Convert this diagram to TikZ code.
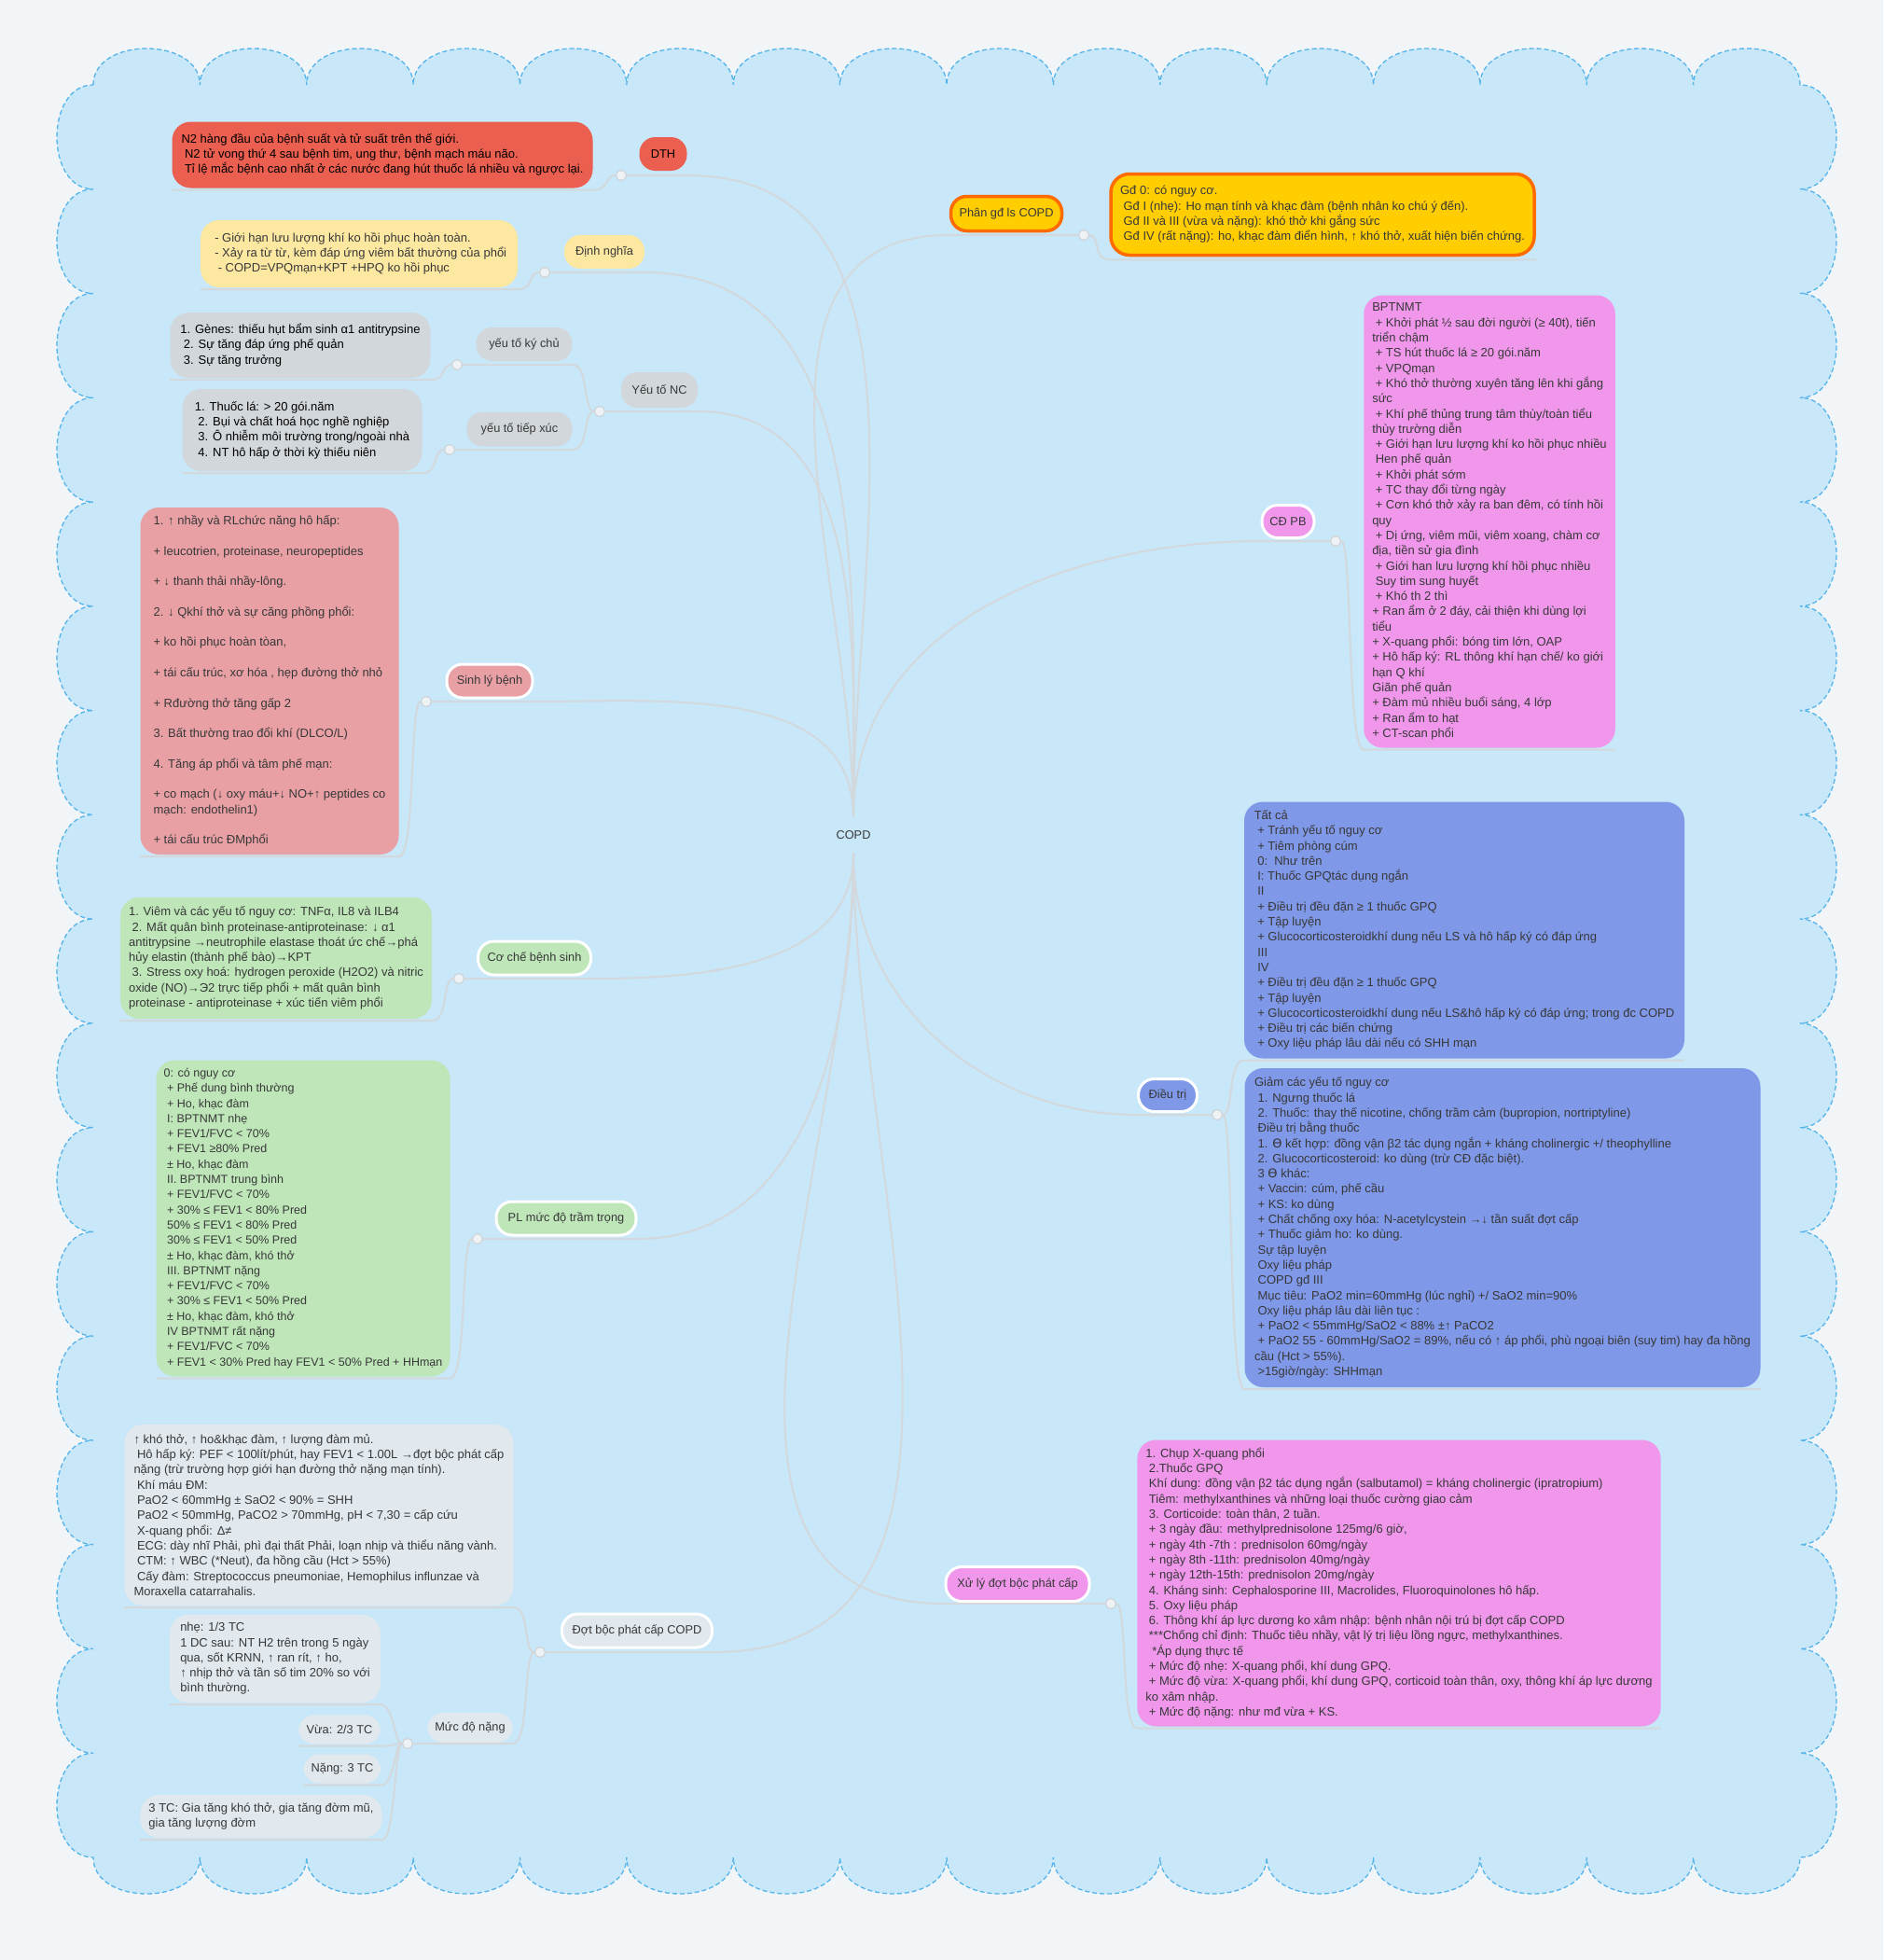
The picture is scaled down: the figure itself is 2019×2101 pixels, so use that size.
\documentclass[tikz,border=0pt]{standalone}
\usepackage{fontspec}
\setmainfont{Liberation Sans}
\newfontfamily\dvfont{DejaVu Sans}
\definecolor{bgc}{HTML}{F1F5F8}
\definecolor{cloudc}{HTML}{C8E7F8}
\definecolor{cloudl}{HTML}{55B4EA}
\definecolor{connc}{HTML}{D3D8DC}
\definecolor{dotc}{HTML}{EEF2F5}
\definecolor{dotd}{HTML}{CED4D9}
\definecolor{txt}{HTML}{383838}
\definecolor{redc}{HTML}{EB5F50}
\definecolor{yelc}{HTML}{FDE8A2}
\definecolor{greyc}{HTML}{D2D7DB}
\definecolor{rosec}{HTML}{E8A0A5}
\definecolor{greenc}{HTML}{BEE6B9}
\definecolor{lgreyc}{HTML}{E1E8EE}
\definecolor{goldc}{HTML}{FFCD00}
\definecolor{orangec}{HTML}{FF6B00}
\definecolor{violetc}{HTML}{F097EC}
\definecolor{bluec}{HTML}{7F98E8}
\newcommand\ind{\hspace*{3.5pt}}
\newcommand\tht{{\dvfont ϴ}}
\begin{document}
\begin{tikzpicture}[x=1pt,y=1pt,
 conn/.style={draw=connc,line width=2pt},
 knob/.style={circle,fill=dotc,draw=dotd,line width=1.2pt,minimum size=11pt,inner sep=0pt},
 pill/.style={rounded corners=17pt,inner xsep=8pt,inner ysep=0pt,text=txt,font=\fontsize{12.8}{14}\selectfont},
 wb/.style={draw=white,line width=3pt},
 cbox/.style={rounded corners=20pt,align=left,inner xsep=9pt,inner ysep=3pt,text=txt,font=\fontsize{13}{16.3}\selectfont}]
\useasboundingbox (0,0) rectangle (2019,-2101);
\fill[bgc] (0,0) rectangle (2019,-2101);
\filldraw[fill=cloudc,draw=cloudl,line width=1.3pt,dash pattern=on 5pt off 3pt] (100,-91)
 \foreach \i in {0,...,15} { .. controls ({100+\i*114.375},-39) and ({100+(\i+1)*114.375},-39) .. ({100+(\i+1)*114.375},-91) }
 \foreach \i in {0,...,16} { .. controls (1982,{-91-\i*111.765}) and (1982,{-91-(\i+1)*111.765}) .. (1930,{-91-(\i+1)*111.765}) }
 \foreach \i in {0,...,15} { .. controls ({1930-\i*114.375},-2043) and ({1930-(\i+1)*114.375},-2043) .. ({1930-(\i+1)*114.375},-1991) }
 \foreach \i in {0,...,16} { .. controls (48,{-1991+\i*111.765}) and (48,{-1991+(\i+1)*111.765}) .. (100,{-1991+(\i+1)*111.765}) }
 -- cycle;

\node[pill,minimum width=60pt,minimum height=38pt] (copd) at (915,-895) {COPD};

\node[pill,fill=redc,text=black,minimum width=51pt,minimum height=36pt] (dth) at (711,-165) {DTH};
\node[knob] (dth-dot) at (666,-188) {};
\node[cbox,fill=redc,text=black,minimum width=451pt,minimum height=71pt] (dthtext) at (410,-166) {N2 hàng đầu của bệnh suất và tử suất trên thế giới.\\
\ind N2 tử vong thứ 4 sau bệnh tim, ung thư, bệnh mạch máu não.\\
\ind Tỉ lệ mắc bệnh cao nhất ở các nước đang hút thuốc lá nhiều và ngược lại.};

\node[pill,fill=yelc,minimum width=86pt,minimum height=36pt] (dinhnghia) at (648,-270) {Định nghĩa};
\node[knob] (dinhnghia-dot) at (584,-292) {};
\node[cbox,fill=yelc,minimum width=340pt,minimum height=72pt] (dinhnghiatext) at (385,-272) {\ind - Giới hạn lưu lượng khí ko hồi phục hoàn toàn.\\
\ind - Xảy ra từ từ, kèm đáp ứng viêm bất thường của phổi\\
\ind\ind - COPD=VPQmạn+KPT +HPQ ko hồi phục};

\node[pill,fill=greyc,minimum width=82pt,minimum height=38pt] (yeuto) at (707,-418) {Yếu tố NC};
\node[knob] (yeuto-dot) at (643,-441) {};
\node[pill,fill=greyc,minimum width=103pt,minimum height=36pt] (kychu) at (562,-369) {yếu tố ký chủ};
\node[knob] (kychu-dot) at (490,-391) {};
\node[cbox,fill=greyc,text=black,minimum width=279pt,minimum height=70pt] (kychutext) at (322,-370) {1. Gènes: thiếu hụt bẩm sinh α1 antitrypsine\\
\ind 2. Sự tăng đáp ứng phế quản\\
\ind 3. Sự tăng trưởng};
\node[pill,fill=greyc,minimum width=113pt,minimum height=37pt] (tiepxuc) at (557,-460) {yếu tố tiếp xúc};
\node[knob] (tiepxuc-dot) at (482,-482) {};
\node[cbox,fill=greyc,text=black,minimum width=257pt,minimum height=88pt] (tiepxuctext) at (324,-461) {1. Thuốc lá: > 20 gói.năm\\
\ind 2. Bụi và chất hoá học nghề nghiệp\\
\ind 3. Ô nhiễm môi trường trong/ngoài nhà\\
\ind 4. NT hô hấp ở thời kỳ thiếu niên};

\node[pill,wb,fill=rosec,minimum width=92pt,minimum height=36pt] (sinhly) at (525,-730) {Sinh lý bệnh};
\node[knob] (sinhly-dot) at (457,-752) {};
\node[cbox,fill=rosec,minimum width=277pt,minimum height=372pt] (sinhlytext) at (289,-730) {1. ↑ nhầy và RLchức năng hô hấp:\\[16.3pt]
+ leucotrien, proteinase, neuropeptides\\[16.3pt]
+ ↓ thanh thải nhầy-lông.\\[16.3pt]
2. ↓ Qkhí thở và sự căng phồng phổi:\\[16.3pt]
+ ko hồi phục hoàn tòan,\\[16.3pt]
+ tái cấu trúc, xơ hóa , hẹp đường thở nhỏ\\[16.3pt]
+ Rđường thở tăng gấp 2\\[16.3pt]
3. Bất thường trao đổi khí (DLCO/L)\\[16.3pt]
4. Tăng áp phổi và tâm phế mạn:\\[16.3pt]
+ co mạch (↓ oxy máu+↓ NO+↑ peptides co\\
mạch: endothelin1)\\[16.3pt]
+ tái cấu trúc ĐMphổi};

\node[pill,wb,fill=greenc,minimum width=121pt,minimum height=36pt] (coche) at (573,-1027) {Cơ chế bệnh sinh};
\node[knob] (coche-dot) at (492,-1049) {};
\node[cbox,fill=greenc,minimum width=332pt,minimum height=130pt] (cochetext) at (296,-1027) {1. Viêm và các yếu tố nguy cơ: TNFα, IL8 và ILB4\\
\ind 2. Mất quân bình proteinase-antiproteinase: ↓ α1\\
antitrypsine →neutrophile elastase thoát ức chế→phá\\
hủy elastin (thành phế bào)→KPT\\
\ind 3. Stress oxy hoá: hydrogen peroxide (H2O2) và nitric\\
oxide (NO)→Э2 trực tiếp phổi + mất quân bình\\
proteinase - antiproteinase + xúc tiến viêm phổi};

\node[pill,wb,fill=greenc,minimum width=150pt,minimum height=36pt] (plmucdo) at (607,-1306) {PL mức độ trầm trọng};
\node[knob] (plmucdo-dot) at (512,-1328) {};
\node[cbox,fill=greenc,inner xsep=7pt,font=\fontsize{12.5}{16.3}\selectfont,minimum width=315pt,minimum height=339pt] (plmucdotext) at (325,-1306) {0: có nguy cơ\\
\ind + Phế dung bình thường\\
\ind + Ho, khạc đàm\\
\ind I: BPTNMT nhẹ\\
\ind + FEV1/FVC < 70\%\\
\ind + FEV1 ≥80\% Pred\\
\ind ± Ho, khạc đàm\\
\ind II. BPTNMT trung bình\\
\ind + FEV1/FVC < 70\%\\
\ind + 30\% ≤ FEV1 < 80\% Pred\\
\ind 50\% ≤ FEV1 < 80\% Pred\\
\ind 30\% ≤ FEV1 < 50\% Pred\\
\ind ± Ho, khạc đàm, khó thở\\
\ind III. BPTNMT nặng\\
\ind + FEV1/FVC < 70\%\\
\ind + 30\% ≤ FEV1 < 50\% Pred\\
\ind ± Ho, khạc đàm, khó thở\\
\ind IV BPTNMT rất nặng\\
\ind + FEV1/FVC < 70\%\\
\ind + FEV1 < 30\% Pred hay FEV1 < 50\% Pred + HHmạn};

\node[pill,wb,fill=lgreyc,minimum width=161pt,minimum height=36pt] (dotbp) at (683,-1748) {Đợt bộc phát cấp COPD};
\node[knob] (dotbp-dot) at (579,-1771) {};
\node[cbox,fill=lgreyc,minimum width=417pt,minimum height=194pt] (dotbptext) at (342,-1624) {↑ khó thở, ↑ ho\&khạc đàm, ↑ lượng đàm mủ.\\
\ind Hô hấp ký: PEF < 100lít/phút, hay FEV1 < 1.00L →đợt bộc phát cấp\\
nặng (trừ trường hợp giới hạn đường thở nặng mạn tính).\\
\ind Khí máu ĐM:\\
\ind PaO2 < 60mmHg ± SaO2 < 90\% = SHH\\
\ind PaO2 < 50mmHg, PaCO2 > 70mmHg, pH < 7,30 = cấp cứu\\
\ind X-quang phổi: Δ≠\\
\ind ECG: dày nhĩ Phải, phì đại thất Phải, loạn nhịp và thiểu năng vành.\\
\ind CTM: ↑ WBC (*Neut), đa hồng cầu (Hct > 55\%)\\
\ind Cấy đàm: Streptococcus pneumoniae, Hemophilus influnzae và\\
Moraxella catarrahalis.};
\node[pill,fill=lgreyc,minimum width=84pt,minimum height=32pt] (mucdo) at (504,-1852) {Mức độ nặng};
\node[knob] (mucdo-dot) at (437,-1869) {};
\node[cbox,fill=lgreyc,minimum width=226pt,minimum height=94pt] (nhe) at (295,-1778) {nhẹ: 1/3 TC\\
1 DC sau: NT H2 trên trong 5 ngày\\
qua, sốt KRNN, ↑ ran rít, ↑ ho,\\
↑ nhịp thở và tần số tim 20\% so với\\
bình thường.};
\node[pill,fill=lgreyc,minimum width=88pt,minimum height=31pt] (vua) at (364,-1854) {Vừa: 2/3 TC};
\node[pill,fill=lgreyc,minimum width=83pt,minimum height=31pt] (nang) at (367,-1896) {Nặng: 3 TC};
\node[cbox,fill=lgreyc,minimum width=257pt,minimum height=46pt] (batc) at (280,-1947) {3 TC: Gia tăng khó thở, gia tăng đờm mũ,\\
gia tăng lượng đờm};

\node[pill,fill=goldc,draw=orangec,line width=3.5pt,minimum width=119pt,minimum height=37pt] (phangd) at (1079,-229) {Phân gđ ls COPD};
\node[knob] (phangd-dot) at (1162,-252) {};
\node[cbox,fill=goldc,draw=orangec,line width=3.5pt,minimum width=454pt,minimum height=87pt] (phangdtext) at (1418,-230) {Gđ 0: có nguy cơ.\\
\ind Gđ I (nhẹ): Ho mạn tính và khạc đàm (bệnh nhân ko chú ý đến).\\
\ind Gđ II và III (vừa và nặng): khó thở khi gắng sức\\
\ind Gđ IV (rất nặng): ho, khạc đàm điển hình, ↑ khó thở, xuất hiện biến chứng.};

\node[pill,wb,fill=violetc,minimum width=56pt,minimum height=35pt] (cdpb) at (1381,-559) {CĐ PB};
\node[knob] (cdpb-dot) at (1432,-580) {};
\node[cbox,fill=violetc,minimum width=268pt,minimum height=485pt] (cdpbtext) at (1597,-559) {BPTNMT\\
\ind + Khởi phát ½ sau đời người (≥ 40t), tiến\\
triển chậm\\
\ind + TS hút thuốc lá ≥ 20 gói.năm\\
\ind + VPQmạn\\
\ind + Khó thở thường xuyên tăng lên khi gắng\\
sức\\
\ind + Khí phế thủng trung tâm thùy/toàn tiểu\\
thùy trường diễn\\
\ind + Giới hạn lưu lượng khí ko hồi phục nhiều\\
\ind Hen phế quản\\
\ind + Khởi phát sớm\\
\ind + TC thay đổi từng ngày\\
\ind + Cơn khó thở xảy ra ban đêm, có tính hồi\\
quy\\
\ind + Dị ứng, viêm mũi, viêm xoang, chàm cơ\\
địa, tiền sử gia đình\\
\ind + Giới han lưu lượng khí hồi phục nhiều\\
\ind Suy tim sung huyết\\
\ind + Khó th 2 thì\\
+ Ran ẩm ở 2 đáy, cải thiện khi dùng lợi\\
tiểu\\
+ X-quang phổi: bóng tim lớn, OAP\\
+ Hô hấp ký: RL thông khí hạn chế/ ko giới\\
hạn Q khí\\
Giãn phế quản\\
+ Đàm mủ nhiều buổi sáng, 4 lớp\\
+ Ran ẩm to hạt\\
+ CT-scan phổi};

\node[pill,wb,fill=bluec,minimum width=63pt,minimum height=35pt] (dieutri) at (1252,-1174) {Điều trị};
\node[knob] (dieutri-dot) at (1305,-1195) {};
\node[cbox,fill=bluec,minimum width=472pt,minimum height=275pt] (dieutri1) at (1570,-997) {Tất cả\\
\ind + Tránh yếu tố nguy cơ\\
\ind + Tiêm phòng cúm\\
\ind 0:\ \ Như trên\\
\ind I: Thuốc GPQtác dụng ngắn\\
\ind II\\
\ind + Điều trị đều đặn ≥ 1 thuốc GPQ\\
\ind + Tập luyện\\
\ind + Glucocorticosteroidkhí dung nếu LS và hô hấp ký có đáp ứng\\
\ind III\\
\ind IV\\
\ind + Điều trị đều đặn ≥ 1 thuốc GPQ\\
\ind + Tập luyện\\
\ind + Glucocorticosteroidkhí dung nếu LS\&hô hấp ký có đáp ứng; trong đc COPD\\
\ind + Điều trị các biến chứng\\
\ind + Oxy liệu pháp lâu dài nếu có SHH mạn};
\node[cbox,fill=bluec,minimum width=553pt,minimum height=342pt] (dieutri2) at (1611,-1316) {Giảm các yếu tố nguy cơ\\
\ind 1. Ngưng thuốc lá\\
\ind 2. Thuốc: thay thế nicotine, chống trầm cảm (bupropion, nortriptyline)\\
\ind Điều trị bằng thuốc\\
\ind 1. \tht{} kết hợp: đồng vận β2 tác dụng ngắn + kháng cholinergic +/ theophylline\\
\ind 2. Glucocorticosteroid: ko dùng (trừ CĐ đặc biệt).\\
\ind 3 \tht{} khác:\\
\ind + Vaccin: cúm, phế cầu\\
\ind + KS: ko dùng\\
\ind + Chất chống oxy hóa: N-acetylcystein →↓ tần suất đợt cấp\\
\ind + Thuốc giảm ho: ko dùng.\\
\ind Sự tập luyện\\
\ind Oxy liệu pháp\\
\ind COPD gđ III\\
\ind Mục tiêu: PaO2 min=60mmHg (lúc nghỉ) +/ SaO2 min=90\%\\
\ind Oxy liệu pháp lâu dài liên tục :\\
\ind + PaO2 < 55mmHg/SaO2 < 88\% ±↑ PaCO2\\
\ind + PaO2 55 - 60mmHg/SaO2 = 89\%, nếu có ↑ áp phổi, phù ngoại biên (suy tim) hay đa hồng\\
cầu (Hct > 55\%).\\
\ind >15giờ/ngày: SHHmạn};

\node[pill,wb,fill=violetc,minimum width=154pt,minimum height=37pt] (xuly) at (1091,-1698) {Xử lý đợt bộc phát cấp};
\node[knob] (xuly-dot) at (1191,-1719) {};
\node[cbox,fill=violetc,minimum width=556pt,minimum height=307pt] (xulytext) at (1500,-1697) {1. Chụp X-quang phổi\\
\ind 2.Thuốc GPQ\\
\ind Khí dung: đồng vận β2 tác dụng ngắn (salbutamol) = kháng cholinergic (ipratropium)\\
\ind Tiêm: methylxanthines và những loại thuốc cường giao cảm\\
\ind 3. Corticoide: toàn thân, 2 tuần.\\
\ind + 3 ngày đầu: methylprednisolone 125mg/6 giờ,\\
\ind + ngày 4th -7th : prednisolon 60mg/ngày\\
\ind + ngày 8th -11th: prednisolon 40mg/ngày\\
\ind + ngày 12th-15th: prednisolon 20mg/ngày\\
\ind 4. Kháng sinh: Cephalosporine III, Macrolides, Fluoroquinolones hô hấp.\\
\ind 5. Oxy liệu pháp\\
\ind 6. Thông khí áp lực dương ko xâm nhập: bệnh nhân nội trú bị đợt cấp COPD\\
\ind ***Chống chỉ định: Thuốc tiêu nhầy, vật lý trị liệu lồng ngực, methylxanthines.\\
\ind\ind *Áp dụng thực tế\\
\ind + Mức độ nhẹ: X-quang phổi, khí dung GPQ.\\
\ind + Mức độ vừa: X-quang phổi, khí dung GPQ, corticoid toàn thân, oxy, thông khí áp lực dương\\
ko xâm nhập.\\
\ind + Mức độ nặng: như mđ vừa + KS.};

\draw[conn] (copd) to[out=90,in=0] (dth-dot -| dth.east) -- (dth-dot);
\draw[conn] (copd) to[out=90,in=0] (dinhnghia-dot -| dinhnghia.east) -- (dinhnghia-dot);
\draw[conn] (copd) to[out=90,in=0] (yeuto-dot -| yeuto.east) -- (yeuto-dot);
\draw[conn] (copd) to[out=90,in=0] (sinhly-dot -| sinhly.east) -- (sinhly-dot);
\draw[conn] (copd) to[out=270,in=0] (coche-dot -| coche.east) -- (coche-dot);
\draw[conn] (copd) to[out=270,in=0] (plmucdo-dot -| plmucdo.east) -- (plmucdo-dot);
\draw[conn] (copd) to[out=270,in=0] (dotbp-dot -| dotbp.east) -- (dotbp-dot);
\draw[conn] (copd) to[out=90,in=180] (phangd-dot -| phangd.west) -- (phangd-dot);
\draw[conn] (copd) to[out=90,in=180] (cdpb-dot -| cdpb.west) -- (cdpb-dot);
\draw[conn] (copd) to[out=270,in=180] (dieutri-dot -| dieutri.west) -- (dieutri-dot);
\draw[conn] (copd) to[out=270,in=180] (xuly-dot -| xuly.west) -- (xuly-dot);

\draw[conn] (dth-dot) .. controls +(-18,0) and +(18,0) .. ([yshift=-2pt]dthtext.south east) -- ([yshift=-2pt]dthtext.south west);
\draw[conn] (dinhnghia-dot) .. controls +(-18,0) and +(18,0) .. ([yshift=-2pt]dinhnghiatext.south east) -- ([yshift=-2pt]dinhnghiatext.south west);
\draw[conn] (yeuto-dot) .. controls +(-18,0) and +(18,0) .. (kychu-dot -| kychu.east) -- (kychu-dot);
\draw[conn] (yeuto-dot) .. controls +(-18,0) and +(18,0) .. (tiepxuc-dot -| tiepxuc.east) -- (tiepxuc-dot);
\draw[conn] (kychu-dot) .. controls +(-18,0) and +(18,0) .. ([yshift=-2pt]kychutext.south east) -- ([yshift=-2pt]kychutext.south west);
\draw[conn] (tiepxuc-dot) .. controls +(-18,0) and +(18,0) .. ([yshift=-2pt]tiepxuctext.south east) -- ([yshift=-2pt]tiepxuctext.south west);
\draw[conn] (sinhly-dot) .. controls +(-18,0) and +(18,0) .. ([yshift=-2pt]sinhlytext.south east) -- ([yshift=-2pt]sinhlytext.south west);
\draw[conn] (coche-dot) .. controls +(-18,0) and +(18,0) .. ([yshift=-2pt]cochetext.south east) -- ([yshift=-2pt]cochetext.south west);
\draw[conn] (plmucdo-dot) .. controls +(-18,0) and +(18,0) .. ([yshift=-2pt]plmucdotext.south east) -- ([yshift=-2pt]plmucdotext.south west);
\draw[conn] (dotbp-dot) .. controls +(-18,0) and +(18,0) .. ([yshift=-2pt]dotbptext.south east) -- ([yshift=-2pt]dotbptext.south west);
\draw[conn] (dotbp-dot) .. controls +(-18,0) and +(18,0) .. (mucdo-dot -| mucdo.east) -- (mucdo-dot);
\draw[conn] (mucdo-dot) .. controls +(-14,0) and +(14,0) .. ([yshift=-2pt]nhe.south east) -- ([yshift=-2pt]nhe.south west);
\draw[conn] (mucdo-dot) .. controls +(-14,0) and +(14,0) .. ([yshift=-2pt]vua.south east) -- ([yshift=-2pt]vua.south west);
\draw[conn] (mucdo-dot) .. controls +(-14,0) and +(14,0) .. ([yshift=-2pt]nang.south east) -- ([yshift=-2pt]nang.south west);
\draw[conn] (mucdo-dot) .. controls +(-14,0) and +(14,0) .. ([yshift=-2pt]batc.south east) -- ([yshift=-2pt]batc.south west);
\draw[conn] (phangd-dot) .. controls +(18,0) and +(-18,0) .. ([yshift=-3pt]phangdtext.south west) -- ([yshift=-3pt]phangdtext.south east);
\draw[conn] (cdpb-dot) .. controls +(18,0) and +(-18,0) .. ([yshift=-2pt]cdpbtext.south west) -- ([yshift=-2pt]cdpbtext.south east);
\draw[conn] (dieutri-dot) .. controls +(18,0) and +(-18,0) .. ([yshift=-2pt]dieutri1.south west) -- ([yshift=-2pt]dieutri1.south east);
\draw[conn] (dieutri-dot) .. controls +(18,0) and +(-18,0) .. ([yshift=-2pt]dieutri2.south west) -- ([yshift=-2pt]dieutri2.south east);
\draw[conn] (xuly-dot) .. controls +(18,0) and +(-18,0) .. ([yshift=-2pt]xulytext.south west) -- ([yshift=-2pt]xulytext.south east);
\end{tikzpicture}
\end{document}
